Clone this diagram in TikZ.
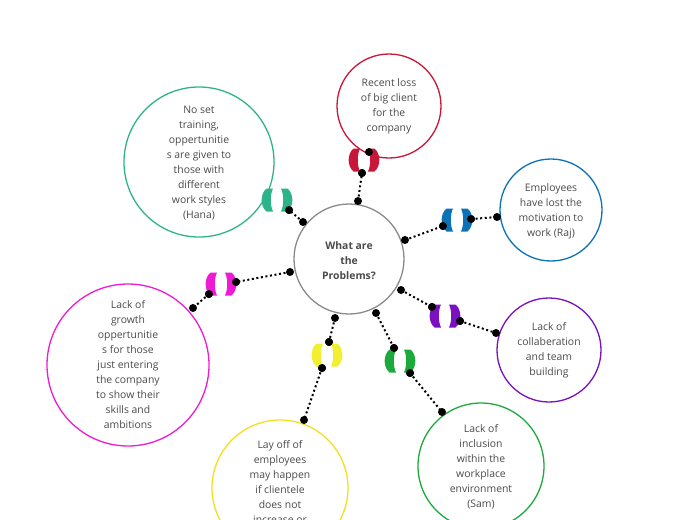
\documentclass[tikz,border=0pt]{standalone}
\usepackage{fontspec}
\setmainfont{Open Sans}
\definecolor{cred}{HTML}{C8173A}
\definecolor{cteal}{HTML}{2DB38A}
\definecolor{cblue}{HTML}{0B72B5}
\definecolor{cmag}{HTML}{EE1AD6}
\definecolor{cpur}{HTML}{7A10BF}
\definecolor{cgreen}{HTML}{1DAA3C}
\definecolor{cyel}{HTML}{F2EE30}
\definecolor{cyelline}{HTML}{F0E020}
\definecolor{tgray}{HTML}{4A4A4A}
\definecolor{cgray}{HTML}{8A8A8A}
\newcommand\knotpair[3]{%
  \fill[#1,shift={(#2,#3)}] (4,-11.5) -- (10.5,-11.5) .. controls (17,-6) and (17,6) .. (10.5,11.5) -- (4,11.5) .. controls (7,5) and (7,-5) .. (4,-11.5) -- cycle;
  \fill[#1,shift={(#2,#3)}] (-4,-11.5) -- (-10.5,-11.5) .. controls (-17,-6) and (-17,6) .. (-10.5,11.5) -- (-4,11.5) .. controls (-7,5) and (-7,-5) .. (-4,-11.5) -- cycle;
}
\begin{document}
\begin{tikzpicture}[x=1pt,y=-1pt,
  bubble/.style={circle, draw=#1, line width=1.3pt, inner sep=0pt},
  txt/.style={font=\fontsize{10.4}{15}\selectfont, text=tgray, align=center, inner sep=0pt},
  conn/.style={line width=2pt, dash pattern=on 2pt off 2.6pt},
  dotc/.style={circle, fill=black, minimum size=8pt, inner sep=0pt}]
\useasboundingbox (0,0) rectangle (697,520);
\clip (0,0) rectangle (697,520);
% circles
\node[bubble=cgray, minimum size=110pt] (hub) at (349,259) {};
\node[bubble=cred, minimum size=104pt] (red) at (389,106) {};
\node[bubble=cteal, minimum size=150pt] (teal) at (199,162) {};
\node[bubble=cblue, minimum size=102pt] (blue) at (551,210) {};
\node[bubble=cmag, minimum size=162pt] (mag) at (128,365) {};
\node[bubble=cpur, minimum size=104pt] (pur) at (549,350) {};
\node[bubble=cgreen, minimum size=126pt] (green) at (481,466) {};
\node[bubble=cyelline, minimum size=136pt] (yel) at (280,488) {};
% texts
\node[txt, font=\fontsize{10.4}{15}\selectfont\bfseries] (hubt) at (349,261) {What are\\the\\Problems?};
\node[txt] (redt) at (389,106.5) {Recent loss\\of big client\\for the\\company};
\node[txt] (tealt) at (199,163.5) {No set\\training,\\oppertunitie\\s are given to\\those with\\different\\work styles\\(Hana)};
\node[txt] (bluet) at (551,211.5) {Employees\\have lost the\\motivation to\\work (Raj)};
\node[txt] (magt) at (128,365) {Lack of\\growth\\oppertunitie\\s for those\\just entering\\the company\\to show their\\skills and\\ambitions};
\node[txt] (purt) at (549,350.5) {Lack of\\collaberation\\and team\\building};
\node[txt] (greent) at (481,466.5) {Lack of\\inclusion\\within the\\workplace\\environment\\(Sam)};
\node[txt] (yelt) at (280,482.5) {Lay off of\\employees\\may happen\\if clientele\\does not\\increase or};
% dots
\node[dotc] (rA) at (358,201) {};
\node[dotc] (rB) at (362,173) {};
\node[dotc] (tA) at (303,222) {};
\node[dotc] (tB) at (289,210) {};
\node[dotc] (bA) at (405,240) {};
\node[dotc] (bB) at (443,226) {};
\node[dotc] (bC) at (471,219) {};
\node[dotc] (bD) at (497,217) {};
\node[dotc] (mA) at (290,272) {};
\node[dotc] (mB) at (236,282) {};
\node[dotc] (mC) at (209,294) {};
\node[dotc] (mD) at (193,308) {};
\node[dotc] (pA) at (401,290) {};
\node[dotc] (pB) at (432,307) {};
\node[dotc] (pC) at (460,321) {};
\node[dotc] (pD) at (496,333) {};
\node[dotc] (gA) at (376,313) {};
\node[dotc] (gB) at (394,348) {};
\node[dotc] (gC) at (410,373) {};
\node[dotc] (gD) at (442,412) {};
\node[dotc] (yA) at (335,318) {};
\node[dotc] (yB) at (329,342) {};
\node[dotc] (yC) at (322,368) {};
\node[dotc] (yD) at (304,420) {};
% connectors
\draw[conn] (rA.center) -- (rB.center);
\draw[conn] (tA.center) -- (tB.center);
\draw[conn] (bA.center) -- (bB.center);
\draw[conn] (bC.center) -- (bD.center);
\draw[conn] (mA.center) -- (mB.center);
\draw[conn] (mC.center) -- (mD.center);
\draw[conn] (pA.center) -- (pB.center);
\draw[conn] (pC.center) -- (pD.center);
\draw[conn] (gA.center) -- (gB.center);
\draw[conn] (gC.center) -- (gD.center);
\draw[conn] (yA.center) -- (yB.center);
\draw[conn] (yC.center) -- (yD.center);
% knots
\knotpair{cred}{364}{160}
\knotpair{cteal}{277}{200}
\knotpair{cblue}{457}{220}
\knotpair{cmag}{221}{284}
\knotpair{cpur}{445}{316}
\knotpair{cgreen}{400}{361}
\knotpair{cyel}{327}{355}
% dots on top
\foreach \d in {rB,tB,bB,bC,mB,mC,pB,pC,gB,gC,yB,yC}
  \fill (\d) circle (4pt);
\node[dotc] (rD) at (369,152) {};
\end{tikzpicture}
\end{document}
